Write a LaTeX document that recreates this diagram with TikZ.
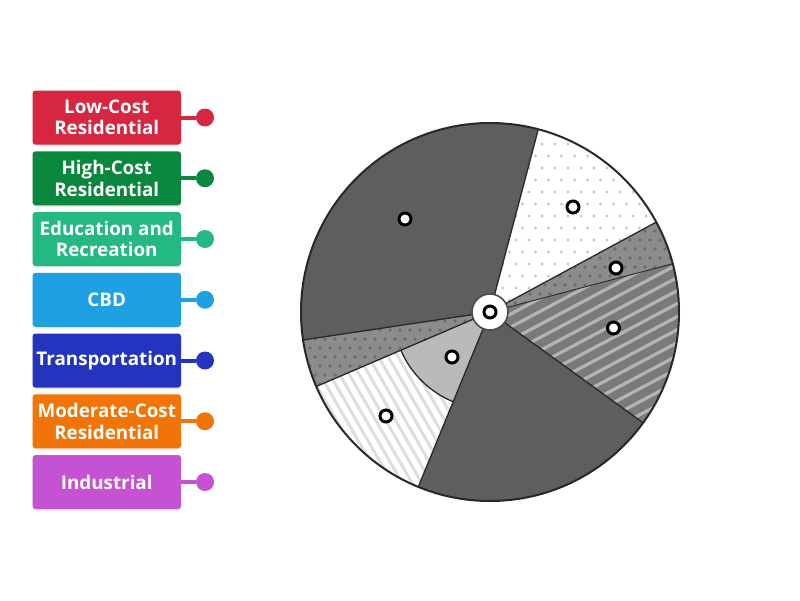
\documentclass[tikz,border=0pt]{standalone}
\usepackage{fontspec}
\setmainfont{Open Sans}
\usetikzlibrary{shadows}
\definecolor{cLow}{RGB}{214,38,64}
\definecolor{cHigh}{RGB}{10,135,62}
\definecolor{cEdu}{RGB}{36,184,130}
\definecolor{cCBD}{RGB}{31,160,226}
\definecolor{cTrans}{RGB}{36,52,190}
\definecolor{cMod}{RGB}{242,116,6}
\definecolor{cInd}{RGB}{196,82,210}
\definecolor{cDark}{RGB}{94,94,94}
\definecolor{cMidGray}{RGB}{140,140,140}
\definecolor{cMidDot}{RGB}{108,108,108}
\definecolor{cLightDot}{RGB}{200,200,200}
\definecolor{cHatchBg}{RGB}{122,122,122}
\definecolor{cHatch}{RGB}{180,180,180}
\definecolor{cPale}{RGB}{186,186,186}
\definecolor{cPaleStripe}{RGB}{222,222,222}
\definecolor{cEdge}{RGB}{40,40,40}
\begin{document}
\begin{tikzpicture}[x=1pt,y=-1pt,
  labelbox/.style={rectangle, rounded corners=3pt, minimum width=148.5pt, minimum height=54pt,
    inner sep=0pt, align=center, text=white, font=\fontsize{18.8}{21.5}\selectfont\bfseries,
    drop shadow={opacity=0.18, shadow xshift=0pt, shadow yshift=-1.5pt}},
  enddot/.style={circle, minimum size=18pt, inner sep=0pt},
  linkline/.style={line width=4pt},
  spot/.style={circle, draw=black, fill=white, line width=3pt, minimum size=12pt, inner sep=0pt},
  divider/.style={line width=1.3pt, draw=cEdge}]
\useasboundingbox (0,0) rectangle (800,600);
\fill[white] (0,0) rectangle (800,600);

% ---------- label boxes ----------
\node[labelbox, fill=cLow]   (b1) at (106.75,117.5)  {Low-Cost\\Residential};
\node[labelbox, fill=cHigh]  (b2) at (106.75,178.25) {High-Cost\\Residential};
\node[labelbox, fill=cEdu]   (b3) at (106.75,239)    {Education and\\Recreation};
\node[labelbox, fill=cCBD]   (b4) at (106.75,299.75) {CBD};
\node[labelbox, fill=cTrans] (b5) at (106.75,360.5)  {Transportation};
\node[labelbox, fill=cMod]   (b6) at (106.75,421.25) {Moderate-Cost\\Residential};
\node[labelbox, fill=cInd]   (b7) at (106.75,482)    {Industrial};

\node[enddot, fill=cLow]   (d1) at (205,117.5)  {};
\node[enddot, fill=cHigh]  (d2) at (205,178.25) {};
\node[enddot, fill=cEdu]   (d3) at (205,239)    {};
\node[enddot, fill=cCBD]   (d4) at (205,299.75) {};
\node[enddot, fill=cTrans] (d5) at (205,360.5)  {};
\node[enddot, fill=cMod]   (d6) at (205,421.25) {};
\node[enddot, fill=cInd]   (d7) at (205,482)    {};

\draw[linkline, cLow]   (b1.east) -- (d1);
\draw[linkline, cHigh]  (b2.east) -- (d2);
\draw[linkline, cEdu]   (b3.east) -- (d3);
\draw[linkline, cCBD]   (b4.east) -- (d4);
\draw[linkline, cTrans] (b5.east) -- (d5);
\draw[linkline, cMod]   (b6.east) -- (d6);
\draw[linkline, cInd]   (b7.east) -- (d7);

% ---------- pie ----------
\begin{scope}[shift={(490,312)}]
  % big dark sector (top-left)
  \fill[cDark] (0,0) -- (171.5:189) arc[start angle=171.5, end angle=284.8, radius=189] -- cycle;
  % dark sector (bottom)
  \fill[cDark] (0,0) -- (35.9:189) arc[start angle=35.9, end angle=112.3, radius=189] -- cycle;
  % white dotted sector (top-right)
  \begin{scope}
    \clip (0,0) -- (-75.2:189) arc[start angle=-75.2, end angle=-28.4, radius=189] -- cycle;
    \fill[white] (-5,5) rectangle (200,-200);
    \foreach \i in {0,...,16} \foreach \j in {0,...,16}
      \fill[cLightDot] ({\i*13+mod(\j,2)*6.5},{-\j*12}) circle[radius=1.6];
  \end{scope}
  % gray dotted sector (right)
  \begin{scope}
    \clip (0,0) -- (-28.4:189) arc[start angle=-28.4, end angle=-14.8, radius=189] -- cycle;
    \fill[cMidGray] (-5,5) rectangle (200,-110);
    \foreach \i in {0,...,20} \foreach \j in {0,...,11}
      \fill[cMidDot] ({\i*10+mod(\j,2)*5},{-\j*9}) circle[radius=1.9];
  \end{scope}
  % gray dotted band (left)
  \begin{scope}
    \clip (0,0) -- (156.8:189) arc[start angle=156.8, end angle=171.5, radius=189] -- cycle;
    \fill[cMidGray] (5,-5) rectangle (-200,90);
    \foreach \i in {0,...,20} \foreach \j in {0,...,10}
      \fill[cMidDot] ({-\i*10-mod(\j,2)*5},{\j*9}) circle[radius=1.9];
  \end{scope}
  % hatched sector (right)
  \begin{scope}
    \clip (0,0) -- (-14.8:189) arc[start angle=-14.8, end angle=35.9, radius=189] -- cycle;
    \fill[cHatchBg] (-5,-60) rectangle (200,200);
    \begin{scope}[rotate=28]
      \foreach \k in {-22,...,22}
        \draw[line width=3.2pt, cHatch] (-260,\k*11.5) -- (260,\k*11.5);
    \end{scope}
  \end{scope}
  % lower-left sector: inner light gray, outer white hatched
  \fill[cPale] (0,0) -- (112.3:97) arc[start angle=112.3, end angle=156.8, radius=97] -- cycle;
  \begin{scope}
    \clip (112.3:97) -- (112.3:189) arc[start angle=112.3, end angle=156.8, radius=189]
      -- (156.8:97) arc[start angle=156.8, end angle=112.3, radius=97] -- cycle;
    \fill[white] (5,-5) rectangle (-200,200);
    \begin{scope}[rotate=-60]
      \foreach \k in {-30,...,30}
        \draw[line width=3pt, cPaleStripe] (-300,\k*8.5) -- (300,\k*8.5);
    \end{scope}
  \end{scope}
  % dividing lines
  \foreach \a in {171.5,-75.2,-28.4,35.9,112.3,156.8}
    \draw[divider] (0,0) -- (\a:189);
  \draw[line width=0.9pt, draw=cEdge] (0,0) -- (-14.8:189);
  \draw[divider] (112.3:97) arc[start angle=112.3, end angle=156.8, radius=97];
  % outline
  \draw[line width=2pt, draw=cEdge] (0,0) circle[radius=189];
  % centre hub
  \fill[white] (0,0) circle[radius=18];
  \draw[line width=1.6pt, draw=black!70] (0,0) circle[radius=18];
\end{scope}

% ---------- drop spots ----------
\node[spot] (s1) at (405,219) {};
\node[spot] (s2) at (573,207) {};
\node[spot] (s3) at (616,268) {};
\node[spot] (s4) at (613.5,328) {};
\node[spot] (s5) at (490,312) {};
\node[spot] (s6) at (452,357) {};
\node[spot] (s7) at (386,416) {};
\end{tikzpicture}
\end{document}
